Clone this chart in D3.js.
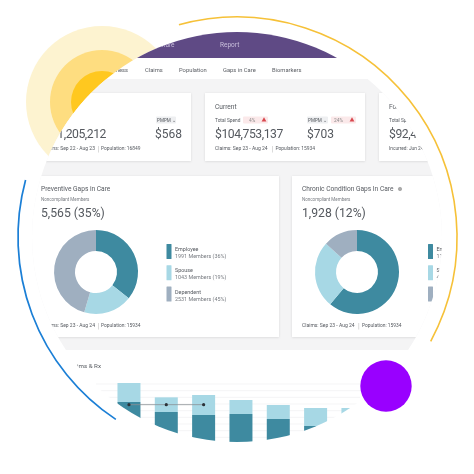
<!DOCTYPE html>
<html><head><meta charset="utf-8">
<script src="https://cdnjs.cloudflare.com/ajax/libs/d3/7.8.5/d3.min.js"></script>
<style>
html,body{margin:0;padding:0;background:#fff}
svg{display:block}
text{font-family:Roboto,"Noto Sans",sans-serif;fill:#55595f}
.soft{filter:blur(.3px)}
</style></head><body>
<svg id="c" width="474" height="474"></svg>
<script>
// ---- data ----
const navItems = ["Wellness","Claims","Population","Gaps in Care","Biomarkers"];
const legendNames = ["Employee","Spouse","Dependent"];
const preventiveMembers = [1991,1043,2531];
const preventivePct = [36,19,45];
const chronicMembers = [1176,497,255];
const chronicPct = [61,26,13];
const months = ["m1","m2","m3","m4","m5","m6","m7"];
const medicalValues = [9.3,7.8,7.35,7.5,6.75,5.7,5.0];
const rxValues = [2.85,2.2,3.0,2.1,2.1,2.7,3.4];
const trendMonths = ["m1","m2","m3"];
const trendValues = [8.9,8.9,8.9];
const gridTicks = [0,1,2,3,4,5,6,7,8,9,10,11,12];
const colors = ["#3e8aa0","#a7d8e5","#9fafc0"];

const svg = d3.select("#c");
const defs = svg.append("defs");
const CX=237, CY=237, R=205;
defs.append("clipPath").attr("id","lens").append("circle").attr("cx",CX).attr("cy",CY).attr("r",R);
defs.append("filter").attr("id","sh").attr("x","-5%").attr("y","-5%").attr("width","110%").attr("height","110%")
  .append("feDropShadow").attr("dx",0).attr("dy",.5).attr("stdDeviation",1).attr("flood-color","#000").attr("flood-opacity",.12);

// sun
[[76,"#fdf3d0"],[52,"#fedd80"],[31,"#ffc81f"]].forEach(([r,f])=>
  svg.append("circle").attr("cx",102).attr("cy",102).attr("r",r).attr("fill",f));

// outer arcs
const deg=Math.PI/180;
const ring=(a0,a1,r,col,w)=>svg.append("path")
  .attr("transform",`translate(${CX},${CY})`)
  .attr("d",d3.arc()({innerRadius:r,outerRadius:r,startAngle:a0*deg,endAngle:a1*deg}))
  .attr("fill","none").attr("stroke",col).attr("stroke-width",w);
ring(-15.3,118.3,220,"#f6c138",1.6);
ring(213.6,285.1,219,"#1b7fd6",1.7);

// dashboard inside the lens
const g = svg.append("g").attr("clip-path","url(#lens)");
const rect=(x,y,w,h,f,sh)=>{const r=g.append("rect").attr("x",x).attr("y",y).attr("width",w).attr("height",h).attr("fill",f);if(sh)r.attr("filter","url(#sh)");return r;};
rect(0,0,474,474,"#fff");
rect(0,0,474,58,"#5f4a85");
rect(0,79,474,271,"#f4f4f5");
rect(-20,93,211,68,"#fff",1);
rect(205,93,160,68,"#fff",1);
rect(379,93,160,68,"#fff",1);
rect(-20,176,299,161,"#fff",1);
rect(292,176,200,161,"#fff",1);
rect(0,350,474,124,"#fff");

const m = g.append("g");
const t = g.append("g").attr("class","soft");
const txt=(s,x,y,size,o={})=>t.append("text").attr("x",x).attr("y",y).attr("font-size",size)
  .attr("text-anchor",o.a||"start").style("fill",o.c||null).attr("font-weight",o.w||400)
  .attr("letter-spacing",o.ls||0).text(s);

// header + nav
txt("Share",158,47,6.5,{c:"#c9bfdc"});
txt("Report",220,47,6.5,{c:"#c9bfdc"});
const navX=[128,145,179,223,272];
navItems.forEach((n,i)=>txt(n,navX[i],71.5,5.8,{a:i==0?"end":"start",c:"#5d6066"}));

// KPI cards
const pill=(x,w,y=116.5)=>m.append("rect").attr("x",x).attr("y",y).attr("width",w).attr("height",7).attr("rx",1).attr("fill","#fbe9ea");
const tri=(x,y=120)=>m.append("path").attr("transform",`translate(${x},${y})`).attr("d",d3.symbol(d3.symbolTriangle,10)).attr("fill","#d9484f");
m.append("rect").attr("x",156).attr("y",116.5).attr("width",20).attr("height",7).attr("rx",1).attr("fill","#eeeff1");
m.append("rect").attr("x",307).attr("y",116.5).attr("width",21).attr("height",7).attr("rx",1).attr("fill","#eeeff1");
pill(243,25); pill(331,25); tri(264); tri(352);

txt("$1,205,212",106,138,12.2,{a:"end",ls:-.45});
txt("PMPM ⌄",157,122,4.6);
txt("$568",155,138,12);
txt("Claims: Sep 22 - Aug 23",95,150,5,{a:"end"});
txt("|",97.5,150.5,7,{c:"#bbb"});
txt("Population: 16849",101,150,4.9);

txt("Current",215,109,6.6);
txt("Total Spend",215,122,4.8);
txt("4%",249,122,4.8,{c:"#8b8b8b"});
txt("$104,753,137",215,138,12.2,{ls:-.45});
txt("PMPM ⌄",308,122,4.6);
txt("24%",334,122,4.8,{c:"#8b8b8b"});
txt("$703",307,138,12);
txt("Claims: Sep 23 - Aug 24",215,150,5);
txt("|",271.5,150.5,7,{c:"#bbb"});
txt("Population: 15934",275.5,150,4.9);

txt("Forecast",389,109,6.6);
txt("Total Spend",389,122,4.8);
txt("$92,410,000",389,138,12.2,{ls:-.45});
txt("Incurred: Jun 24",389,150,4.8);

// donut panels
const pie=d3.pie().sort(null).startAngle(0).endAngle(2*Math.PI);
const arc=d3.arc().innerRadius(21).outerRadius(42);
function donut(cx,cy,vals){
  m.append("g").attr("transform",`translate(${cx},${cy})`)
   .selectAll("path").data(pie(vals)).join("path").attr("d",arc).attr("fill",(d,i)=>colors[i]);
}
function legend(x,vals,pct){
  const y0=d3.scalePoint().domain(legendNames).range([244,286.5]);
  legendNames.forEach((n,i)=>{
    m.append("rect").attr("x",x).attr("y",y0(n)).attr("width",5).attr("height",15).attr("rx",.5).attr("fill",colors[i]);
    txt(n,x+8.5,y0(n)+7,5.4);
    txt(`${vals[i]} Members (${pct[i]}%)`,x+8.5,y0(n)+14,5.4,{c:"#777b80"});
  });
}
txt("Preventive Gaps in Care",41,191,6.6);
txt("Noncompliant Members",41,201,4.5,{c:"#777b80"});
txt("5,565 (35%)",41,216.5,12.2);
donut(96,272,preventiveMembers);
legend(166.5,preventiveMembers,preventivePct);
txt("Claims: Sep 23 - Aug 24",95,327,5,{a:"end"});
txt("|",97.5,328,7,{c:"#bbb"});
txt("Population: 15934",101,327,4.9);

txt("Chronic Condition Gaps In Care",302,191,6.6);
m.append("circle").attr("cx",400).attr("cy",189).attr("r",1.7).attr("fill","#aaa").attr("stroke","#999").attr("stroke-width",.6);
txt("Noncompliant Members",302,201,4.5,{c:"#777b80"});
txt("1,928 (12%)",302,216.5,12.2);
donut(357,272,chronicMembers);
legend(428,chronicMembers,chronicPct);
txt("Claims: Sep 23 - Aug 24",302,327,5);
txt("|",358,328,7,{c:"#bbb"});
txt("Population: 15934",362,327,4.9);

// stacked bars
txt("Claims & Rx",101,368,6.2,{a:"end"});
const x=d3.scaleBand().domain(months).range([110.3,371.6]).paddingInner(.384).paddingOuter(.192);
const y=d3.scaleLinear().domain([0,12]).range([464,384]);
m.append("g").selectAll("line").data(gridTicks).join("line")
  .attr("x1",96).attr("x2",360).attr("y1",d=>y(d)).attr("y2",d=>y(d))
  .attr("stroke","#f0f0f2").attr("stroke-width",.7);
const bars=m.append("g");
bars.selectAll(".dark").data(months).join("rect").attr("class","dark")
  .attr("x",d=>x(d)).attr("width",x.bandwidth())
  .attr("y",(d,i)=>y(medicalValues[i])).attr("height",(d,i)=>y(0)-y(medicalValues[i])).attr("fill",colors[0]);
bars.selectAll(".light").data(months).join("rect").attr("class","light")
  .attr("x",d=>x(d)).attr("width",x.bandwidth())
  .attr("y",(d,i)=>y(medicalValues[i]+rxValues[i])).attr("height",(d,i)=>y(0)-y(rxValues[i])).attr("fill",colors[1]);
const px=d=>x(d)+x.bandwidth()/2;
const ln=d3.line().x((d,i)=>px(trendMonths[i])).y(d=>y(d));
m.append("path").attr("d",ln(trendValues)).attr("fill","none").attr("stroke","#8a8f94").attr("stroke-width",.8);
m.append("g").selectAll("circle").data(trendValues).join("circle")
  .attr("cx",(d,i)=>px(trendMonths[i])).attr("cy",d=>y(d)).attr("r",1.6).attr("fill","#2c3238");

// accent
svg.append("circle").attr("cx",386).attr("cy",386).attr("r",25.7).attr("fill","#9900ff");
</script>
</body></html>
